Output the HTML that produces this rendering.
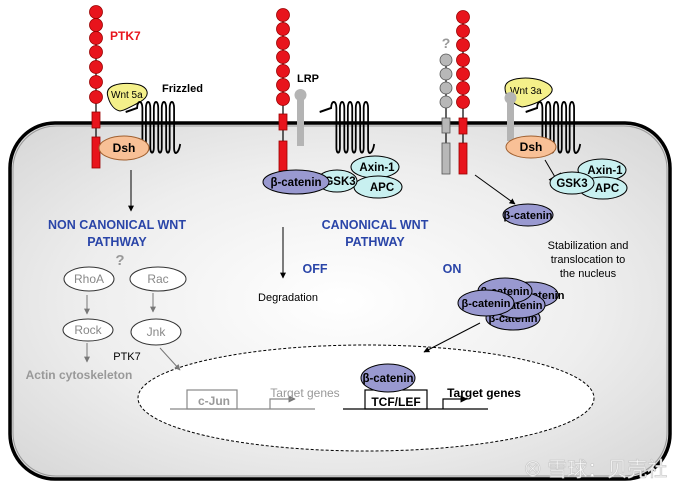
<!DOCTYPE html>
<html><head><meta charset="utf-8"><style>
html,body{margin:0;padding:0;background:#fff;}
svg{display:block;font-family:"Liberation Sans",Arial,sans-serif;}
.b{font-weight:bold;}
</style></head><body>
<svg width="682" height="490" viewBox="0 0 682 490" xmlns="http://www.w3.org/2000/svg">
<defs>
<radialGradient id="cg" cx="0.5" cy="0.5" r="0.7">
<stop offset="0" stop-color="#ffffff"/><stop offset="0.55" stop-color="#eeeeee"/><stop offset="1" stop-color="#d6d6d6"/>
</radialGradient>
<marker id="ar" viewBox="0 0 10 10" refX="9" refY="5" markerWidth="6" markerHeight="6" orient="auto"><path d="M0,0L10,5L0,10z" fill="#000"/></marker>
<marker id="ag" viewBox="0 0 10 10" refX="9" refY="5" markerWidth="6" markerHeight="6" orient="auto"><path d="M0,0L10,5L0,10z" fill="#777"/></marker>
<path id="sq" d="M-14,6 L-1,2 C-1,-6 5,-6 5,2 L5,42 C5,48 9,48 9,42 L9,2 C9,-6 14,-6 14,2 L14,42 C14,48 18,48 18,42 L18,2 C18,-6 23,-6 23,2 L23,42 C23,48 27,48 27,42 L27,2 C27,-6 32,-6 32,2 L32,42 C32,48 36,48 36,42 L36,2 C36,-6 41,-6 41,2 L41,42 C41,50 46,48 48,38" fill="none" stroke="#000" stroke-width="2"/>
</defs>
<!-- cell -->
<rect x="10" y="123" width="660" height="356" rx="45" ry="45" fill="url(#cg)" stroke="#000" stroke-width="3.5"/>
<rect x="13" y="126" width="654" height="350" rx="43" ry="43" fill="none" stroke="#999" stroke-width="1"/>

<!-- nucleus (drawn early so arrows are on top) -->
<ellipse cx="366" cy="398" rx="228" ry="53" fill="#fff" stroke="#000" stroke-width="1" stroke-dasharray="3,2"/>

<!-- PTK7 1 -->
<g fill="#e8141c" stroke="#900" stroke-width="0.8">
<line x1="96" y1="12" x2="96" y2="167" stroke="#000" stroke-width="1.2"/>
<circle cx="96" cy="12" r="6.5"/><circle cx="96" cy="25" r="6.5"/><circle cx="96" cy="38" r="6.5"/><circle cx="96" cy="52" r="6.5"/><circle cx="96" cy="67" r="6.5"/><circle cx="96" cy="82" r="6.5"/><circle cx="96" cy="97" r="6.5"/>
<rect x="92" y="112" width="8" height="16"/><rect x="92" y="137" width="8" height="31"/>
</g>
<text x="110" y="40" fill="#e8141c" font-size="12" class="b">PTK7</text>
<path d="M108,97 C104,85 120,82 135,84 C148,86 152,95 140,102 C132,106 126,110 120,111 C114,110 110,104 108,97z" fill="#f4f08a" stroke="#000" stroke-width="1"/>
<text x="111" y="98" font-size="10">Wnt 5a</text>
<text x="162" y="92" font-size="11" class="b">Frizzled</text>
<use href="#sq" transform="translate(138,106) scale(0.88,1)"/>
<ellipse cx="124" cy="148" rx="25" ry="12" fill="#f8c096" stroke="#a06030"/>
<text x="124" y="152" font-size="12" class="b" text-anchor="middle">Dsh</text>
<line x1="131" y1="170" x2="131" y2="211" stroke="#000" marker-end="url(#ar)"/>
<text x="117" y="229" font-size="12.5" class="b" fill="#2a45a8" text-anchor="middle">NON CANONICAL WNT</text>
<text x="117" y="246" font-size="12.5" class="b" fill="#2a45a8" text-anchor="middle">PATHWAY</text>

<!-- PTK7 2 -->
<g fill="#e8141c" stroke="#900" stroke-width="0.8">
<line x1="283" y1="15" x2="283" y2="170" stroke="#000" stroke-width="1.2"/>
<circle cx="283" cy="15" r="6.5"/><circle cx="283" cy="29" r="6.5"/><circle cx="283" cy="43" r="6.5"/><circle cx="283" cy="57" r="6.5"/><circle cx="283" cy="71" r="6.5"/><circle cx="283" cy="85" r="6.5"/><circle cx="283" cy="99" r="6.5"/>
<rect x="279" y="114" width="8" height="16"/><rect x="279" y="141" width="8" height="30"/>
</g>
<rect x="297" y="96" width="7" height="50" fill="#b4b4b4"/><circle cx="300.5" cy="95" r="6" fill="#b4b4b4"/>
<text x="297" y="82" font-size="11" class="b">LRP</text>
<use href="#sq" transform="translate(332,106) scale(0.88,1)"/>
<ellipse cx="375" cy="167" rx="24" ry="11" fill="#c8f0f0" stroke="#000"/>
<ellipse cx="378" cy="187" rx="24" ry="11" fill="#c8f0f0" stroke="#000"/>
<ellipse cx="337" cy="181" rx="20" ry="11" fill="#c8f0f0" stroke="#000"/>
<text x="377" y="171" font-size="11.5" class="b" text-anchor="middle">Axin-1</text>
<text x="382" y="191" font-size="11.5" class="b" text-anchor="middle">APC</text>
<text x="340" y="185" font-size="11.5" class="b" text-anchor="middle">GSK3</text>
<ellipse cx="296" cy="182" rx="33" ry="12" fill="#9999d0" stroke="#000"/>
<text x="296" y="186" font-size="11.5" class="b" text-anchor="middle">β-catenin</text>
<text x="375" y="229" font-size="12.5" class="b" fill="#2a45a8" text-anchor="middle">CANONICAL WNT</text>
<text x="375" y="246" font-size="12.5" class="b" fill="#2a45a8" text-anchor="middle">PATHWAY</text>
<line x1="283" y1="227" x2="283" y2="278" stroke="#000" marker-end="url(#ar)"/>
<text x="315" y="273" font-size="12.5" class="b" fill="#2a45a8" text-anchor="middle">OFF</text>
<text x="288" y="301" font-size="11" text-anchor="middle">Degradation</text>
<text x="452" y="273" font-size="12.5" class="b" fill="#2a45a8" text-anchor="middle">ON</text>

<!-- right receptors -->
<text x="446" y="48" font-size="14" class="b" fill="#999" text-anchor="middle">?</text>
<g fill="#b8b8b8" stroke="#555" stroke-width="0.8">
<line x1="446" y1="55" x2="446" y2="173" stroke="#000" stroke-width="1.2"/>
<circle cx="446" cy="60" r="6"/><circle cx="446" cy="74" r="6"/><circle cx="446" cy="88" r="6"/><circle cx="446" cy="102" r="6"/>
<rect x="442" y="118" width="8" height="15"/><rect x="442" y="143" width="8" height="31"/>
</g>
<g fill="#e8141c" stroke="#900" stroke-width="0.8">
<line x1="463" y1="17" x2="463" y2="173" stroke="#000" stroke-width="1.2"/>
<circle cx="463" cy="17" r="6.5"/><circle cx="463" cy="31" r="6.5"/><circle cx="463" cy="45" r="6.5"/><circle cx="463" cy="60" r="6.5"/><circle cx="463" cy="74" r="6.5"/><circle cx="463" cy="88" r="6.5"/><circle cx="463" cy="102" r="6.5"/>
<rect x="459" y="118" width="8" height="16"/><rect x="459" y="143" width="8" height="31"/>
</g>
<line x1="475" y1="175" x2="515" y2="204" stroke="#000" marker-end="url(#ar)"/>
<path d="M505,88 C505,78 525,76 540,80 C552,84 556,90 548,96 C540,102 530,106 522,107 C512,104 505,96 505,88z" fill="#f4f08a" stroke="#000" stroke-width="1"/>
<text x="510" y="94" font-size="10">Wnt 3a</text>
<rect x="507" y="99" width="7" height="42" fill="#b4b4b4"/><circle cx="510.5" cy="98" r="6" fill="#b4b4b4"/>
<use href="#sq" transform="translate(538,106) scale(0.88,1)"/>
<ellipse cx="531" cy="147" rx="25" ry="11" fill="#f8c096" stroke="#a06030"/>
<text x="531" y="151" font-size="12" class="b" text-anchor="middle">Dsh</text>
<line x1="545" y1="160" x2="555" y2="177" stroke="#000"/>
<line x1="549" y1="180" x2="561" y2="173" stroke="#000" stroke-width="1.2"/>
<ellipse cx="602" cy="170" rx="24" ry="11" fill="#c8f0f0" stroke="#000"/>
<ellipse cx="603" cy="188" rx="24" ry="11" fill="#c8f0f0" stroke="#000"/>
<ellipse cx="572" cy="183" rx="22" ry="11" fill="#c8f0f0" stroke="#000"/>
<text x="605" y="174" font-size="11.5" class="b" text-anchor="middle">Axin-1</text>
<text x="607" y="192" font-size="11.5" class="b" text-anchor="middle">APC</text>
<text x="572" y="187" font-size="11.5" class="b" text-anchor="middle">GSK3</text>
<ellipse cx="528" cy="215" rx="25" ry="11" fill="#9999d0" stroke="#000"/>
<text x="528" y="219" font-size="11" class="b" text-anchor="middle">β-catenin</text>
<text x="588" y="249" font-size="11" text-anchor="middle">Stabilization and</text>
<text x="588" y="263" font-size="11" text-anchor="middle">translocation to</text>
<text x="588" y="277" font-size="11" text-anchor="middle">the nucleus</text>

<!-- cluster -->
<g fill="#9999d0" stroke="#000" font-size="11" font-weight="bold" text-anchor="middle">
<ellipse cx="531" cy="295" rx="27" ry="13"/><text x="540" y="299" stroke="none" fill="#000">β-catenin</text>
<ellipse cx="513" cy="318" rx="27" ry="12"/><text x="513" y="322" stroke="none" fill="#000">β-catenin</text>
<ellipse cx="518" cy="305" rx="27" ry="13"/><text x="518" y="309" stroke="none" fill="#000">β-catenin</text>
<ellipse cx="505" cy="291" rx="27" ry="13"/><text x="505" y="295" stroke="none" fill="#000">β-catenin</text>
<ellipse cx="486" cy="303" rx="28" ry="13"/><text x="486" y="307" stroke="none" fill="#000">β-catenin</text>
</g>
<line x1="480" y1="323" x2="424" y2="352" stroke="#000" marker-end="url(#ar)"/>

<!-- non-canonical cascade -->
<text x="120" y="265" font-size="15" class="b" fill="#999" text-anchor="middle">?</text>
<g fill="#fff" stroke="#333" stroke-width="1">
<ellipse cx="89" cy="279" rx="25" ry="12"/><ellipse cx="158" cy="279" rx="28" ry="12"/>
<ellipse cx="88" cy="330" rx="25" ry="11"/><ellipse cx="156" cy="332" rx="25" ry="13"/>
</g>
<g font-size="12" fill="#888" text-anchor="middle">
<text x="89" y="283">RhoA</text><text x="158" y="283">Rac</text>
<text x="88" y="334">Rock</text><text x="156" y="336">Jnk</text>
</g>
<g stroke="#777" marker-end="url(#ag)">
<line x1="87" y1="295" x2="87" y2="314"/><line x1="153" y1="293" x2="153" y2="312"/>
<line x1="87" y1="343" x2="87" y2="362"/><line x1="160" y1="348" x2="180" y2="370"/>
</g>
<text x="127" y="360" font-size="11" text-anchor="middle">PTK7</text>
<text x="79" y="379" font-size="12" class="b" fill="#999" text-anchor="middle">Actin  cytoskeleton</text>

<!-- nucleus contents -->
<g stroke="#888" fill="none" stroke-width="1.2">
<line x1="170" y1="409" x2="315" y2="409"/>
<rect x="187" y="390" width="50" height="19"/>
<path d="M270,409 V399 H295" marker-end="url(#ag)"/>
</g>
<text x="214" y="405" font-size="12" class="b" fill="#999" text-anchor="middle">c-Jun</text>
<text x="305" y="397" font-size="12" fill="#999" text-anchor="middle">Target genes</text>
<g stroke="#000" fill="none" stroke-width="1.2">
<line x1="343" y1="409" x2="488" y2="409"/>
<rect x="365" y="390" width="62" height="19"/>
<path d="M443,409 V399 H467" marker-end="url(#ar)"/>
</g>
<text x="396" y="406" font-size="12" class="b" text-anchor="middle">TCF/LEF</text>
<text x="484" y="397" font-size="12" class="b" text-anchor="middle">Target genes</text>
<ellipse cx="388" cy="378" rx="27" ry="14" fill="#9999d0" stroke="#000"/>
<text x="388" y="382" font-size="11.5" class="b" text-anchor="middle">β-catenin</text>

<text x="595" y="476" font-size="20" fill="#fff" stroke="#ccc" stroke-width="0.8" text-anchor="middle" font-family="'Noto Sans CJK SC',sans-serif">⊗ 雪球：贝壳社</text>
</svg>
</body></html>
